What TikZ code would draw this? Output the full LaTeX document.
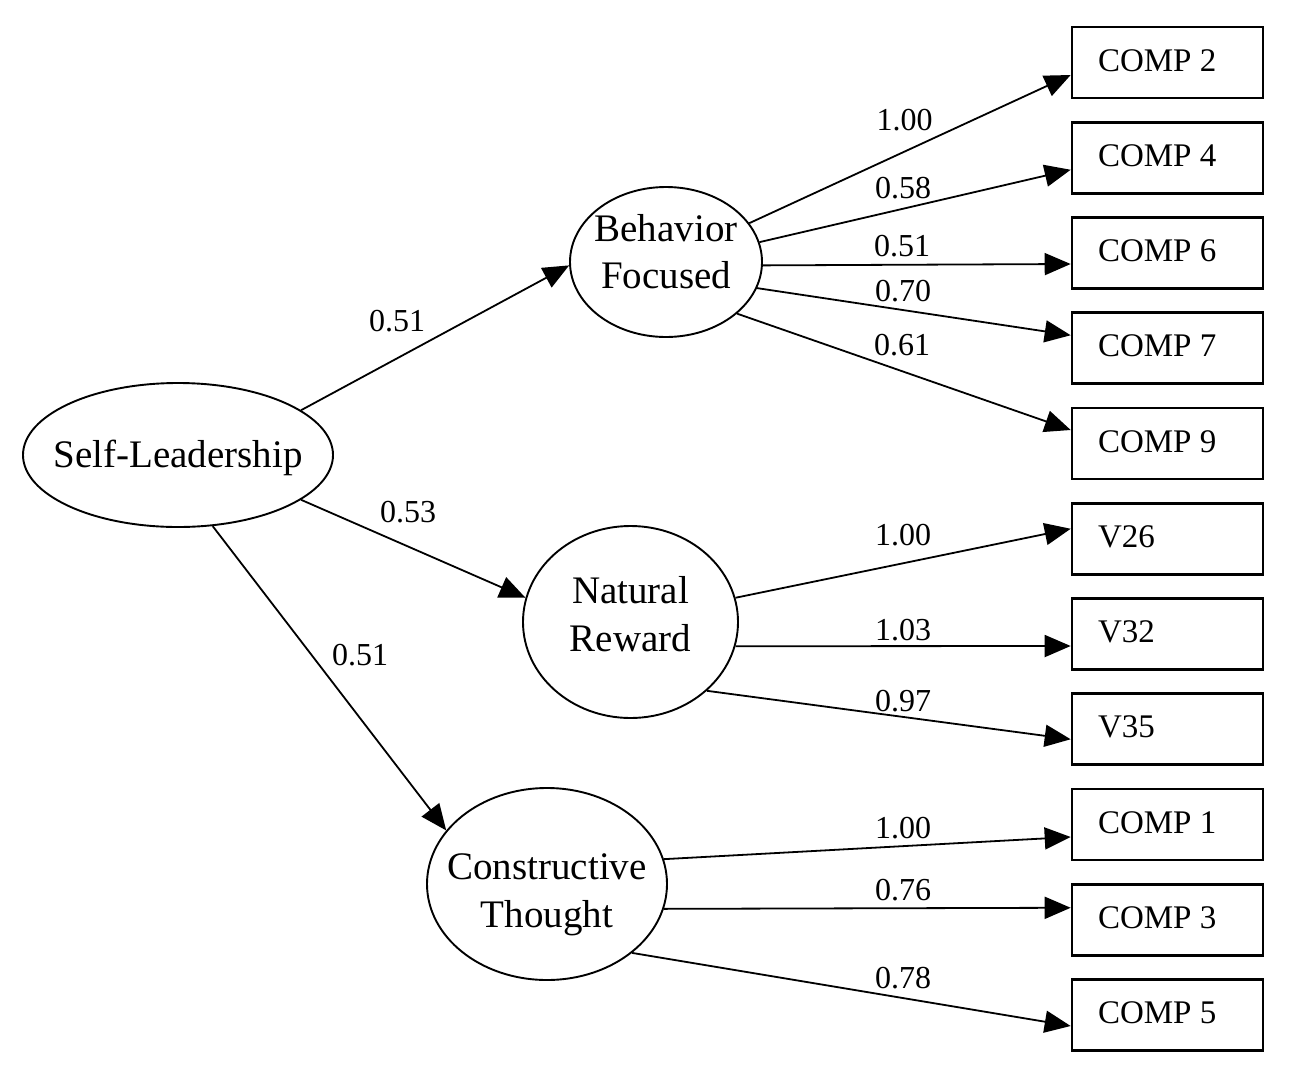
\documentclass[tikz,border=0pt]{standalone}
\usepackage{fontspec}
\setmainfont{Liberation Serif}
\usetikzlibrary{arrows.meta,shapes.geometric}
\newcommand{\onel}[2]{\makebox[0pt]{\raisebox{#1}[0pt][0pt]{\makebox[0pt]{#2}}}}
\newcommand{\twol}[4]{\onel{#1}{#2}\onel{#3}{#4}}
\begin{document}
\begin{tikzpicture}[x=1pt,y=-1pt,
  latent/.style={draw, ellipse, line width=1.9pt, inner sep=0pt, font=\fontsize{39}{47}\selectfont},
  obs/.style={draw, rectangle, line width=2.6pt, minimum width=191pt, minimum height=71pt,
    inner xsep=26pt, inner ysep=0pt, text width=139pt, align=flush left,
    text height=22pt, text depth=5pt, font=\fontsize{33}{40}\selectfont},
  lnk/.style={line width=1.8pt, -{Triangle[length=26pt,width=22pt]}},
  coef/.style={anchor=base, inner sep=0pt, font=\fontsize{32}{38}\selectfont}]
\fill[white] (0,0) rectangle (1291,1082);
\useasboundingbox (0,0) rectangle (1291,1082);

% latent variables
\node[latent, minimum width=310pt, minimum height=144pt] (sl) at (178,455) {\onel{-12pt}{Self-Leadership}};
\node[latent, minimum width=192pt, minimum height=150pt] (bf) at (666,262) {\twol{21pt}{Behavior}{-26pt}{Focused}};
\node[latent, minimum width=215pt, minimum height=192pt] (nr) at (630.5,622) {\twol{19pt}{Natural}{-29pt}{Reward}};
\node[latent, minimum width=240pt, minimum height=192pt] (ct) at (547,884) {\twol{5pt}{Constructive}{-43pt}{Thought}};

% observed variables
\node[obs] (c2)  at (1167.5,62.5)   {COMP 2};
\node[obs] (c4)  at (1167.5,157.75) {COMP 4};
\node[obs] (c6)  at (1167.5,253)    {COMP 6};
\node[obs] (c7)  at (1167.5,348.25) {COMP 7};
\node[obs] (c9)  at (1167.5,443.5)  {COMP 9};
\node[obs] (v26) at (1167.5,538.75) {V26};
\node[obs] (v32) at (1167.5,634)    {V32};
\node[obs] (v35) at (1167.5,729.25) {V35};
\node[obs] (c1)  at (1167.5,824.5)  {COMP 1};
\node[obs] (c3)  at (1167.5,919.75) {COMP 3};
\node[obs] (c5)  at (1167.5,1015)   {COMP 5};

% structural paths
\draw[lnk] (sl.20) -- (bf.182);
\draw[lnk] (sl.-20) -- (nr.167);
\draw[lnk] (sl.-64) -- (ct.152);

% loadings
\draw[lnk] (bf.25)  -- ([yshift=-12.5pt]c2.west);
\draw[lnk] (bf.12)  -- ([yshift=-12pt]c4.west);
\draw[lnk] (bf.-2)  -- ([yshift=-11pt]c6.west);
\draw[lnk] (bf.-16) -- ([yshift=13pt]c7.west);
\draw[lnk] (bf.-36) -- ([yshift=13.5pt]c9.west);
\draw[lnk] (nr.13)  -- ([yshift=10pt]v26.west);
\draw[lnk] (nr.-13) -- ([yshift=-12pt]v32.west);
\draw[lnk] (nr.-42) -- ([yshift=-10pt]v35.west);
\draw[lnk] (ct.12)  -- ([yshift=-12.5pt]c1.west);
\draw[lnk] (ct.-12) -- ([yshift=12pt]c3.west);
\draw[lnk] (ct.-39) -- ([yshift=-11pt]c5.west);

% coefficients
\node[coef] (k1) at (397,331) {0.51};
\node[coef] (k2) at (408,522) {0.53};
\node[coef] (k3) at (360,665) {0.51};
\node[coef] (k4) at (904.5,130) {1.00};
\node[coef] (k5) at (903,198) {0.58};
\node[coef] (k6) at (902,256) {0.51};
\node[coef] (k7) at (903,301) {0.70};
\node[coef] (k8) at (902,355) {0.61};
\node[coef] (k9) at (903,545) {1.00};
\node[coef] (k10) at (903,640) {1.03};
\node[coef] (k11) at (903,711) {0.97};
\node[coef] (k12) at (903,838) {1.00};
\node[coef] (k13) at (903,900) {0.76};
\node[coef] (k14) at (903,988) {0.78};
\end{tikzpicture}
\end{document}
